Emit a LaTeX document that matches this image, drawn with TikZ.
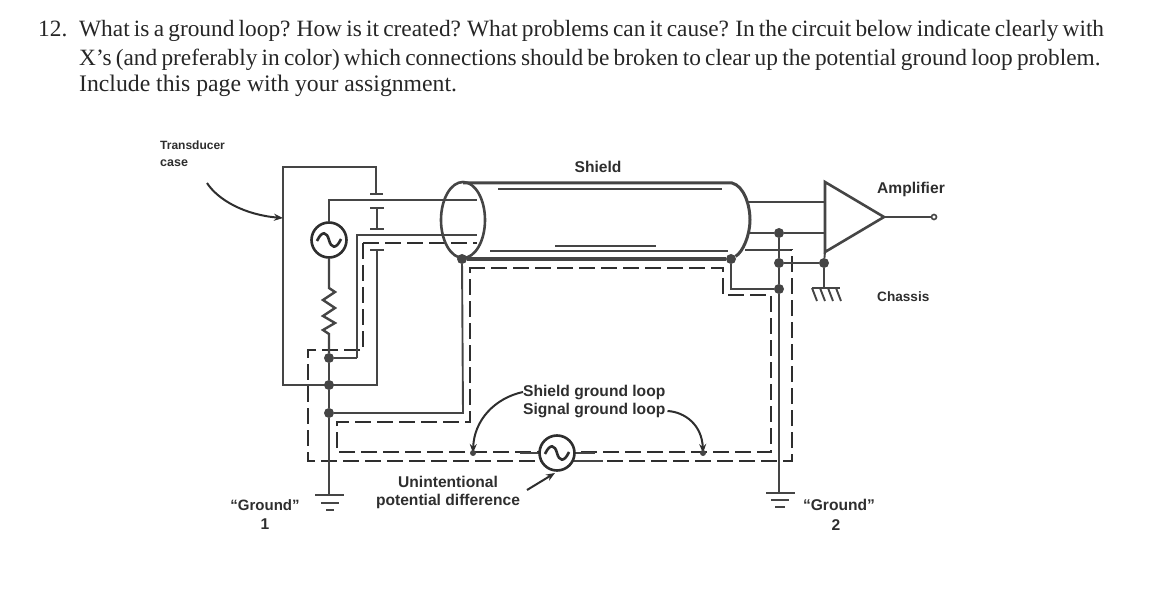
\documentclass[tikz,border=0pt]{standalone}
\usepackage{fontspec}
\setmainfont{Liberation Serif}
\setsansfont{Liberation Sans}
\newfontfamily\hdrtight[WordSpace=0.72]{Liberation Serif}
\usetikzlibrary{shapes.geometric,arrows.meta}
\definecolor{ink}{gray}{0.27}
\definecolor{inkd}{gray}{0.18}
\newcommand{\lsize}[1]{\fontsize{#1}{18}\selectfont}
\tikzset{
 wire/.style={draw=ink,line width=1.9pt},
 thickwire/.style={draw=ink,line width=2.8pt},
 dashloop/.style={draw=inkd,line width=2pt,dash pattern=on 16pt off 6pt},
 dotn/.style={circle,fill=ink,inner sep=0pt,minimum size=10pt},
 src/.style={circle,draw=inkd,line width=2.6pt,fill=white,inner sep=0pt,minimum size=35pt},
 lab/.style={font=\sffamily\bfseries\lsize{15.6},text=inkd,inner sep=0pt},
 hdr/.style={font=\hdrtight\fontsize{23.35}{26}\selectfont,text=black!85,inner sep=0pt,anchor=base west},
 leader/.style={draw=inkd,line width=2pt,-{Stealth[length=9pt,width=7pt]}},
 plate/.style={draw=ink,line width=2.6pt},
 streak/.style={draw=ink,line width=1.5pt},
}
\begin{document}
\begin{tikzpicture}[x=1pt,y=-1pt]
\useasboundingbox (0,0) rectangle (1176,596);
% header
\node[hdr] (n12) at (38,37) {12.};
\node[hdr] (l1) at (79,37) {What is a ground loop? How is it created? What problems can it cause? In the circuit below indicate clearly with};
\node[hdr] (l2) at (79,66) {X’s (and preferably in color) which connections should be broken to clear up the potential ground loop problem.};
\node[hdr,font=\rmfamily\fontsize{23.7}{26}\selectfont] (l3) at (79,92) {Include this page with your assignment.};
% coordinates
\coordinate (ct1) at (283,167); \coordinate (ct2) at (376,167); \coordinate (ct3) at (376,194);
\coordinate (cb1) at (283,385); \coordinate (cb2) at (377,385); \coordinate (cb3) at (377,250);
\coordinate (a1) at (329,200); \coordinate (a2) at (477,200);
\coordinate (b1) at (357,235); \coordinate (b2) at (477,235); \coordinate (b3) at (357,358);
\node[dotn] (d1) at (329,358) {};
\node[dotn] (d2) at (329,385) {};
\node[dotn] (d3) at (329,413) {};
\node[dotn] (ds) at (462,259) {};
\node[dotn] (ds2) at (731,259) {};
\node[dotn] (dr1) at (779,233) {};
\node[dotn] (dr2) at (779,263) {};
\node[dotn] (dr3) at (779,289) {};
\node[dotn] (dr4) at (824,263) {};
% dashed loops
\draw[dashloop] (363,243) -- (477,243);
\draw[dashloop,line width=1.7pt] (363,243) -- (363,350) -- (308,350) -- (308,461) -- (792,461) -- (792,250) -- (745,250);
\draw[dashloop] (469,268) -- (723,268) -- (723,295) -- (771,295) -- (771,452) -- (337,452) -- (337,422) -- (470,422) -- (470,268);
% case
\draw[thickwire] (ct3) -- (ct2) -- (ct1) -- (cb1) -- (cb2) -- (cb3);
\draw[plate] (370,194) -- (383,194);
\draw[plate] (370,208) -- (384,208);
\draw[plate] (370,229) -- (384,229);
\draw[thickwire] (377,208) -- (377,229);
\draw[plate] (370,250) -- (384,250);
% wires
\node[src] (s1) at (329,240) {\tikz[x=1pt,y=-1pt]\draw[inkd,line width=2.6pt] (-12,1) .. controls (-7,-10) and (-2,-8) .. (0,0) .. controls (2,8) and (7,10) .. (12,-1);};
\draw[wire] (s1) -- (a1) -- (a2);
\draw[wire] (b3) -- (b1) -- (b2);
\draw[wire] (b3) -- (d1);
% resistor
\draw[wire,line width=2.4pt] (s1) -- (329,288) -- (335,292) -- (323,300) -- (335,308) -- (323,316) -- (335,323) -- (323,330) -- (329,334) -- (d1);
\draw[wire,line width=2.4pt] (d1) -- (d2) -- (d3) -- (329,495);
\draw[wire] (d3) -- (463,413) -- (ds);
% cable
\node[ellipse,draw=ink,line width=2.6pt,inner sep=0pt,minimum width=44pt,minimum height=76pt] (sh) at (463,220) {};
\draw[draw=ink,line width=3pt] (463,183) -- (732,183) .. controls (744,186) and (750,205) .. (750,220) .. controls (750,235) and (743,252) .. (ds2);
\draw[draw=ink,line width=4.5pt] (ds2) -- (ds);
\draw[streak,line width=2pt] (498,189) -- (722,189);
\draw[streak] (490,251) -- (728,251);
\draw[streak] (555,246) -- (656,246);
\draw[draw=ink,line width=1.5pt] (745,250) -- (790,250);
% right side
\coordinate (tri1) at (825,182); \coordinate (tri2) at (884,217); \coordinate (tri3) at (825,252);
\draw[draw=ink,line width=2.6pt,line join=miter] (tri1) -- (tri2) -- (tri3) -- cycle;
\draw[wire] (748,202) -- (825,202);
\draw[wire] (749,233) -- (dr1) -- (825,233);
\draw[wire,line width=2.4pt] (dr1) -- (dr2) -- (dr3) -- (779,493);
\draw[wire] (dr2) -- (dr4);
\draw[wire] (ds2) -- (731,289) -- (dr3);
\draw[wire] (825,252) -- (dr4) -- (824,287);
\node[circle,draw=ink,line width=1.6pt,inner sep=0pt,minimum size=5pt] (out) at (934,217) {};
\draw[wire] (tri2) -- (out);
% chassis
\draw[wire,line width=2.2pt] (812,288) -- (840,288);
\foreach \x in {812,820,828,836} \draw[wire] (\x,288) -- (\x+5,301);
% grounds
\draw[plate] (315,495) -- (344,495); \draw[plate] (321,503) -- (339,503); \draw[plate] (326,510) -- (334,510);
\draw[plate] (766,493) -- (795,493); \draw[plate] (771,500) -- (789,500); \draw[plate] (775,507) -- (785,507);
% mid source
\draw[wire] (520,453) -- (595,453);
\draw[wire] (540,461) -- (603,461);
\node[src] (s2) at (557,453) {\tikz[x=1pt,y=-1pt]\draw[inkd,line width=2.6pt] (-12,1) .. controls (-7,-10) and (-2,-8) .. (0,0) .. controls (2,8) and (7,10) .. (12,-1);};
% leaders
\coordinate (cs0) at (207,183); \coordinate (cs1) at (283,218);
\draw[leader] (cs0) .. controls (218,200) and (245,215) .. (cs1);
\node[lab,anchor=west] (sgl) at (523,392) {Shield ground loop};
\node[lab,anchor=west] (sig) at (523,410) {Signal ground loop};
\coordinate (e1) at (473,453); \coordinate (e2) at (703,453);
\draw[leader] (sgl.west) .. controls (495,398) and (474,420) .. (e1);
\draw[leader] (sig.east) ++(2,1) .. controls (685,412) and (702,425) .. (e2);
\fill[ink] (e1) circle (3pt); \fill[ink] (e2) circle (3pt);
\coordinate (e3) at (527,490); \coordinate (e4) at (555,473);
\draw[leader] (e3) -- (e4);
% labels
\node[lab,anchor=west,font=\sffamily\bfseries\lsize{12}] (tc1) at (160,145) {Transducer};
\node[lab,anchor=west,font=\sffamily\bfseries\lsize{12.5}] (tc2) at (160,163) {case};
\node[lab] (shl) at (598,167) {Shield};
\node[lab,anchor=west] (amp) at (877,189) {Amplifier};
\node[lab,anchor=west,font=\sffamily\bfseries\lsize{13.6}] (cha) at (877,297) {Chassis};
\node[lab] (un1) at (448,482) {Unintentional};
\node[lab] (un2) at (448,501) {potential difference};
\node[lab,font=\sffamily\bfseries\lsize{15}] (g1) at (265,505) {“Ground”};
\node[lab] (g1n) at (265,524) {1};
\node[lab,font=\sffamily\bfseries\lsize{15.6}] (g2) at (839,505) {“Ground”};
\node[lab] (g2n) at (836,525) {2};
\end{tikzpicture}
\end{document}
